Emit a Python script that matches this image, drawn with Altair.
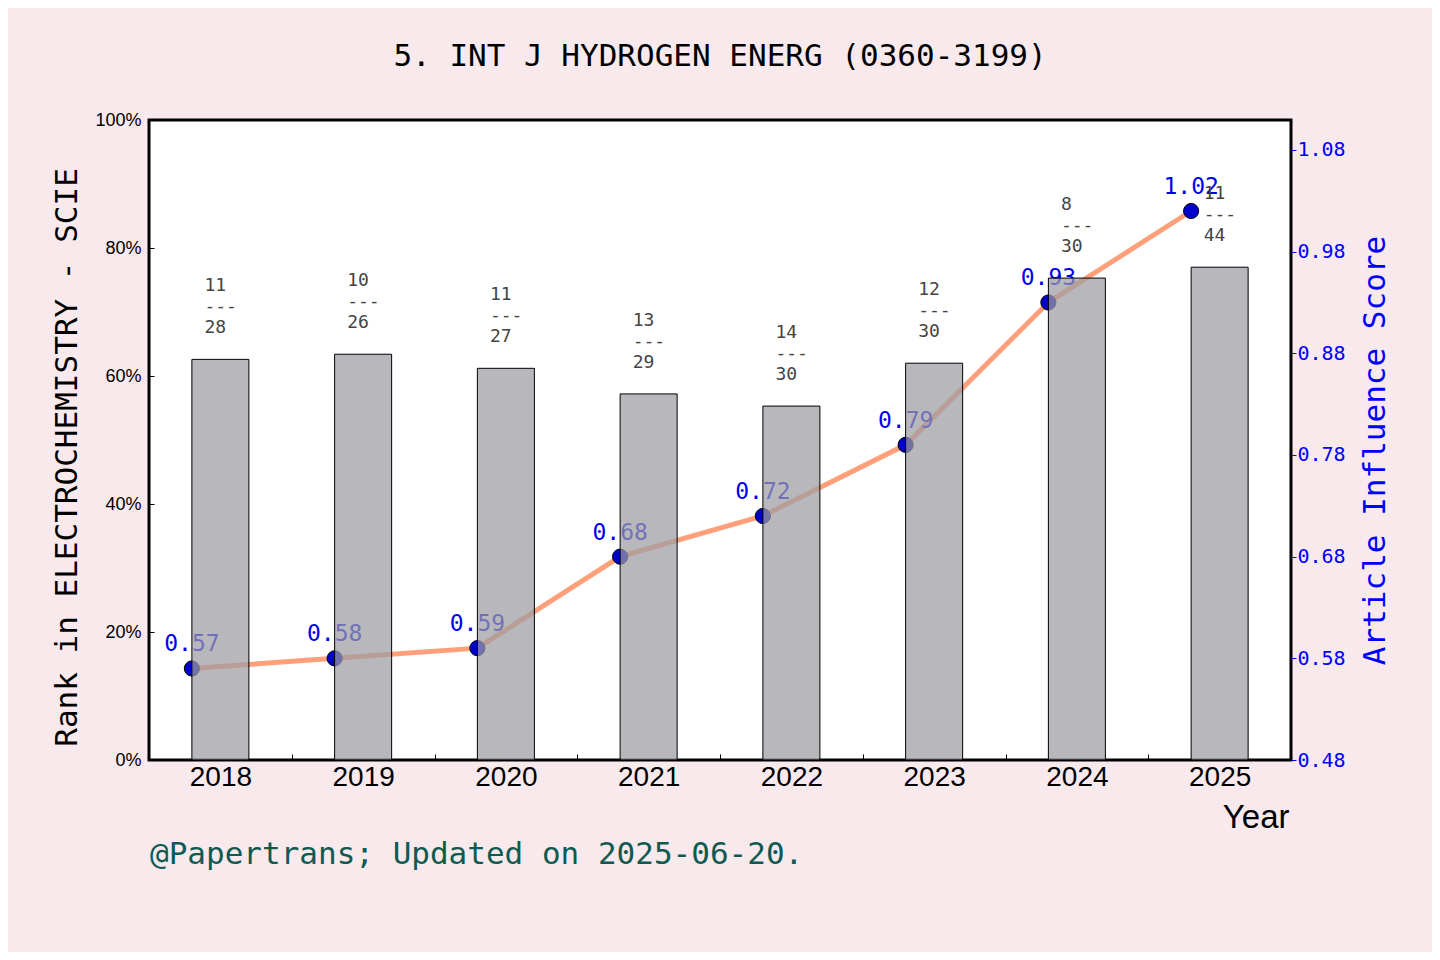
import altair as alt
import pandas as pd

years = ["2018", "2019", "2020", "2021", "2022", "2023", "2024", "2025"]
rank_pct = [0.626, 0.634, 0.612, 0.572, 0.553, 0.620, 0.753, 0.770]
ranks = [11, 10, 11, 13, 14, 12, 8, 11]
totals = [28, 26, 27, 29, 30, 30, 30, 44]
ais = [0.57, 0.58, 0.59, 0.68, 0.72, 0.79, 0.93, 1.02]
title_text = "5. INT J HYDROGEN ENERG (0360-3199)"
footer_text = "@Papertrans; Updated on 2025-06-20."

df = pd.DataFrame({
    "Year": years,
    "rank": rank_pct,
    "ais": ais,
    "frac": [f"{r}\n---\n{t}" for r, t in zip(ranks, totals)],
    "aislabel": [f"{v:.2f}" for v in ais],
})

MONO = "DejaVu Sans Mono"
SANS = "Liberation Sans"
W, H = 1142, 640

xenc = alt.X("Year:N", sort=years,
             scale=alt.Scale(paddingInner=0, paddingOuter=0),
             axis=alt.Axis(title="Year", labelAngle=0, domain=False,
                           tickBand="extent", offset=-6, tickSize=6,
                           tickColor="black", tickWidth=1,
                           labelFont=SANS, labelFontSize=28, labelColor="black",
                           labelBaseline="middle", labelPadding=17,
                           titleFont=SANS, titleFontSize=33, titleFontWeight="normal",
                           titleColor="black", titleAlign="right", titleBaseline="middle",
                           titleX=1140, titleY=63, titleAngle=0))

yleft = alt.Y("rank:Q", scale=alt.Scale(domain=[0, 1], nice=False),
              axis=alt.Axis(title="Rank in ELECTROCHEMISTRY - SCIE", orient="left",
                            values=[0, 0.2, 0.4, 0.6, 0.8, 1.0], format=".0%",
                            domain=False, grid=False, offset=-5, tickSize=5,
                            tickColor="black", labelFont=SANS, labelFontSize=18,
                            labelColor="black", labelPadding=8, labelBaseline="middle",
                            titleFont=MONO, titleFontSize=31, titleFontWeight="normal",
                            titleColor="black", titleAngle=270, titleAlign="center",
                            titleBaseline="middle", titleX=-87, titleY=337))

yright = alt.Y("ais:Q", scale=alt.Scale(domain=[0.48, 1.1095], nice=False, zero=False),
               axis=alt.Axis(title="Article Influence Score", orient="right",
                             values=[0.48, 0.58, 0.68, 0.78, 0.88, 0.98, 1.08], format=".2f",
                             domain=False, grid=False, tickSize=5, tickColor="#0000ff",
                             labelFont=MONO, labelFontSize=20, labelColor="#0000ff",
                             labelPadding=1, labelBaseline="middle",
                             titleFont=MONO, titleFontSize=31, titleFontWeight="normal",
                             titleColor="#0000ff", titleAngle=270, titleAlign="center",
                             titleBaseline="middle", titleX=84, titleY=330))

base = alt.Chart(df)

line = base.mark_line(color="#ffa07a", strokeWidth=5, xOffset=-28.5).encode(x=xenc, y=yright)
pts = base.mark_point(filled=True, fill="#0000cd", stroke="black", strokeWidth=1,
                      size=230, opacity=1, xOffset=-28.5).encode(x=xenc, y=yright)
ptlab = base.mark_text(font=MONO, fontSize=23, color="#0000ee", baseline="middle",
                       align="center", dy=-24, xOffset=-28.5).encode(
    x=xenc, y=yright, text="aislabel:N")

right_layer = alt.layer(line, pts, ptlab)

bars = base.mark_bar(size=57, fill="#9c9ca2", fillOpacity=0.72, stroke="black",
                     strokeWidth=1, strokeOpacity=1).encode(x=xenc, y=yleft)
fr = base.mark_text(font=MONO, fontSize=18, color="#444444", align="left", dx=-16,
                    baseline="middle", dy=-73, lineBreak="\n", lineHeight=21).encode(
    x=xenc, y=yleft, text="frac:N")

title_df = pd.DataFrame({"t": [title_text]})
footer_df = pd.DataFrame({"t": [footer_text]})
title_mark = alt.Chart(title_df).mark_text(font=MONO, fontSize=31, color="black",
                                           align="center", baseline="middle").encode(
    x=alt.value(W / 2), y=alt.value(-63), text="t:N")
footer_mark = alt.Chart(footer_df).mark_text(font=MONO, fontSize=31, color="#0f5a50",
                                             align="left", baseline="middle").encode(
    x=alt.value(1), y=alt.value(735), text="t:N")

left_layer = alt.layer(bars, fr, title_mark, footer_mark)

chart = alt.layer(right_layer, left_layer).resolve_scale(y="independent").properties(
    width=W, height=H,
    background="#f8e9ed",
    padding={"left": 141, "top": 112, "right": 141, "bottom": 192},
    autosize=alt.AutoSizeParams(type="none"),
).configure_view(fill="white", stroke="black", strokeWidth=3)

chart.save("out.html", embed_options={"renderer": "svg", "actions": False})
